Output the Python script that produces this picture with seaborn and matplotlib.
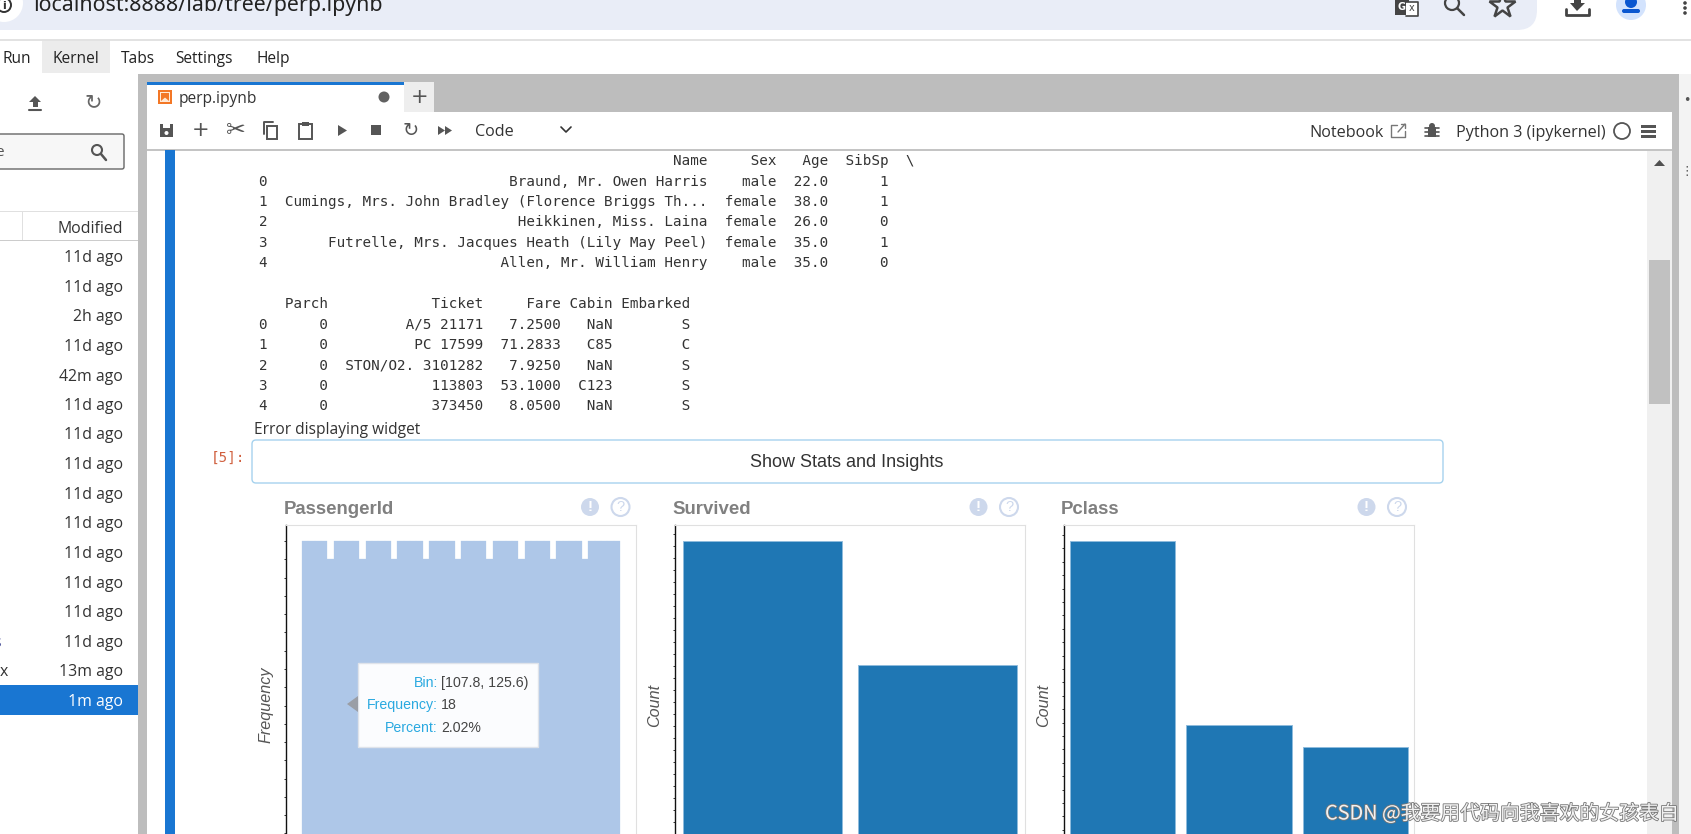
import matplotlib
matplotlib.use("Agg")
import matplotlib.pyplot as plt
import seaborn as sns
from matplotlib.patches import Rectangle, Circle, FancyBboxPatch, Polygon
from matplotlib.ticker import MultipleLocator
import matplotlib.patheffects as pe

# Datos de las tres gráficas
passenger_counts = [18, 18, 18, 18, 17, 18, 18, 18, 18, 17,
                    18, 18, 18, 18, 17, 18, 18, 18, 18, 17,
                    18, 18, 18, 18, 17, 18, 18, 18, 18, 17,
                    18, 18, 18, 18, 17, 18, 18, 18, 18, 17,
                    18, 18, 18, 18, 17, 18, 18, 18, 18, 18]
survived_labels = ["0", "1"]
survived_counts = [549, 342]
pclass_labels = ["3", "1", "2"]
pclass_counts = [491, 216, 184]

# Textos de la interfaz
menu_items = ["Run", "Kernel", "Tabs", "Settings", "Help"]
modified_times = ["11d ago", "11d ago", "2h ago", "11d ago", "42m ago", "11d ago", "11d ago", "11d ago",
                  "11d ago", "11d ago", "11d ago", "11d ago", "11d ago", "11d ago", "13m ago", "1m ago"]

# Salida del notebook
names = ["Braund, Mr. Owen Harris", "Cumings, Mrs. John Bradley (Florence Briggs Th...",
         "Heikkinen, Miss. Laina", "Futrelle, Mrs. Jacques Heath (Lily May Peel)", "Allen, Mr. William Henry"]
sexes = ["male", "female", "female", "female", "male"]
ages = ["22.0", "38.0", "26.0", "35.0", "35.0"]
sibsp = ["1", "1", "0", "1", "0"]
parch = ["0", "0", "0", "0", "0"]
tickets = ["A/5 21171", "PC 17599", "STON/O2. 3101282", "113803", "373450"]
fares = ["7.2500", "71.2833", "7.9250", "53.1000", "8.0500"]
cabins = ["NaN", "C85", "NaN", "C123", "NaN"]
embarked = ["S", "C", "S", "S", "S"]

W, H = 1691, 834
BLUE = "#1976d2"
BAR = "#1f77b4"
LIGHT = "#aec7e8"
UI_FONT = ["Open Sans", "DejaVu Sans"]
ARIAL = ["Liberation Sans", "DejaVu Sans"]
MONO = ["DejaVu Sans Mono"]

sns.set_theme(style="white")
fig = plt.figure(figsize=(W / 100, H / 100), dpi=100, facecolor="white")


def pixel_axes(zorder):
    # Ejes a pantalla completa con coordenadas en píxeles
    a = fig.add_axes([0, 0, 1, 1], zorder=zorder)
    a.set_xlim(0, W)
    a.set_ylim(H, 0)
    a.axis("off")
    return a


bg = pixel_axes(0)
top = pixel_axes(5)


def box(x0, y0, x1, y1, color, **kw):
    bg.add_patch(Rectangle((x0, y0), x1 - x0, y1 - y0, fc=color, ec="none", **kw))


def label(a, x, y, s, size, color="#333333", family=UI_FONT, ha="left", dy=2, **kw):
    # dy corrige el centrado vertical del texto respecto a la captura
    a.text(x, y + dy, s, fontsize=size, color=color, family=family, ha=ha, va="center", **kw)


def glyph(x, y, s, size, color, family=("DejaVu Sans",), **kw):
    label(bg, x, y, s, size, color=color, family=list(family), ha="center", dy=0, **kw)


# Barra del navegador
bg.add_patch(FancyBboxPatch((-30, -40), 1567, 70, boxstyle="round,pad=0,rounding_size=20", fc="#e9edf7", ec="none"))
bg.add_patch(Circle((4, 3), 19, fc="white", ec="none"))
bg.add_patch(Circle((4, 5), 7, fc="none", ec="#333333", lw=1.4))
glyph(4, 6, "i", 8, "#333333", fontweight="bold")
label(bg, 33, 5, "localhost:8888/lab/tree/perp.ipynb", 15.4, color="#222222", family=["Noto Sans", "DejaVu Sans"], dy=0)
box(1395, 0, 1409, 15, "#444444")
box(1406, 2, 1418, 16, "white", zorder=1.2)
bg.plot([1406, 1418, 1418, 1406], [2, 2, 16, 16], color="#444444", lw=1.2)
glyph(1401, 7, "G", 7, "white", fontweight="bold")
glyph(1412, 8, "x", 7, "#444444")
bg.add_patch(Circle((1452, 3), 7, fc="none", ec="#444444", lw=1.6))
bg.plot([1457, 1464], [8, 15], color="#444444", lw=1.8)
bg.plot([1502], [5], marker="*", ms=19, mfc="none", mec="#444444", mew=1.8)
bg.plot([1566, 1566, 1589, 1589], [9, 15, 15, 9], color="#444444", lw=2)
bg.add_patch(Polygon([[1570, 3], [1585, 3], [1577, 11]], fc="#444444", ec="none"))
box(1574, 0, 1581, 4, "#444444")
bg.add_patch(Circle((1631, 5), 15, fc="#d3e3fd", ec="none"))
bg.add_patch(Circle((1631, 2), 6, fc="#0b57d0", ec="none"))
bg.add_patch(FancyBboxPatch((1622, 9), 18, 4, boxstyle="round,pad=0,rounding_size=2", fc="#0b57d0", ec="none"))
for yy in [3, 8, 13]:
    bg.add_patch(Circle((1685, yy), 1.8, fc="#444444", ec="none"))

# Menú de JupyterLab
box(0, 39, W, 41, "#e2e2e2")
box(42, 41, 110, 73, "#ececec")
for x, s in zip([2, 53, 121, 175, 257], menu_items):
    label(bg, x, 57, s, 11.2, color="#222222")

# Fondo gris y paneles
box(0, 74, W, H, "#bdbdbd")
box(0, 74, 138, H, "white")
box(147, 150, 1672, H, "white")
box(147, 112, 1672, 150, "white")
box(147, 149, 1672, 151, "#c4c4c4")
box(1679, 74, W, H, "#f3f3f3")
glyph(1687, 100, "•", 9, "#555555")
glyph(1687, 171, "⋮", 9, "#555555")

# Pestaña
box(147, 84, 404, 112, "white")
box(147, 82, 404, 84.5, BLUE)
box(404, 82, 434, 112, "#eeeeee")
box(158, 90, 172, 104, "#f37726")
box(160, 92, 170, 102, "#ffe9d6")
bg.add_patch(Polygon([[161, 93], [169, 93], [169, 101], [165, 97.5], [161, 101]], fc="#f37726", ec="none"))
label(bg, 179, 97, "perp.ipynb", 11.2)
bg.add_patch(Circle((384, 97), 5.5, fc="#616161", ec="none"))
glyph(420, 97, "+", 15, "#555555")

# Barra lateral de archivos
bg.plot([29, 41], [110, 110], color="#555555", lw=1.5)
bg.add_patch(Polygon([[29, 102], [41, 102], [35, 96]], fc="#555555", ec="none"))
box(32.5, 101, 37.5, 107, "#555555")
glyph(93, 102, "↻", 15, "#666666")
bg.add_patch(FancyBboxPatch((-10, 134), 134, 35, boxstyle="round,pad=0,rounding_size=2", fc="#f7f7f7", ec="#666666", lw=1))
label(bg, -5, 152, "e", 11, color="#555555", dy=0)
bg.add_patch(Circle((97, 150), 5, fc="none", ec="#555555", lw=1.5))
bg.plot([101, 106], [154, 160], color="#555555", lw=1.8)
box(0, 211, 138, 212, "#e0e0e0")
box(0, 240, 138, 241, "#cccccc")
box(21.5, 212, 22.5, 240, "#e0e0e0")
label(bg, 123, 227, "Modified", 11.4, ha="right")
box(0, 685, 138, 715, BLUE)
row_ys = [256, 286, 315, 345, 375, 404, 433, 463, 493, 522, 552, 582, 611, 641, 670, 700]
for y, s in zip(row_ys, modified_times):
    label(bg, 123, y, s, 11.4, color="white" if s == "1m ago" else "#333333", ha="right")
label(bg, 1, 641, "s", 11.4, color="#1a237e", ha="right")
label(bg, 0, 670, "x", 11.4)

# Iconos de la barra del notebook
IC = "#555555"
box(160, 124, 173, 137, IC)
box(163, 124, 170, 128, "white")
bg.add_patch(Circle((166.5, 133), 2, fc="white", ec="none"))
glyph(201, 130, "+", 15, IC)
glyph(236, 130, "✂", 17, IC)
bg.add_patch(Rectangle((267, 126), 10, 13, fc="white", ec=IC, lw=1.4))
bg.plot([264, 264, 273], [134, 122, 122], color=IC, lw=1.4)
bg.add_patch(Rectangle((299, 124), 13, 15, fc="white", ec=IC, lw=1.4))
box(302, 122, 309, 126, IC)
bg.add_patch(Polygon([[338, 125], [338, 136], [347, 130.5]], fc=IC, ec="none"))
box(371, 125, 381, 135, IC)
glyph(411, 130, "↻", 14, IC)
bg.add_patch(Polygon([[438, 126], [438, 135], [445, 130.5]], fc=IC, ec="none"))
bg.add_patch(Polygon([[445, 126], [445, 135], [452, 130.5]], fc=IC, ec="none"))
label(bg, 475, 130, "Code", 11.6)
bg.plot([561, 566, 571], [127, 132, 127], color="#333333", lw=1.2)
label(bg, 1309, 131, "Notebook", 11.6)
bg.plot([1397, 1391, 1391, 1405, 1405], [125, 125, 137, 137, 131], color="#777777", lw=1)
bg.plot([1398, 1405], [132, 124], color="#777777", lw=1)
bg.plot([1401, 1405, 1405], [124, 124, 128], color="#777777", lw=1)
# Insecto del depurador
bg.add_patch(Rectangle((1428, 127), 8, 10, fc=IC, ec="none"))
bg.add_patch(Circle((1432, 126), 3, fc=IC, ec="none"))
for yy in [128, 132, 136]:
    bg.plot([1425, 1439], [yy, yy], color=IC, lw=1.2)
label(bg, 1456, 131, "Python 3 (ipykernel)", 11.6)
bg.add_patch(Circle((1622, 131), 8, fc="white", ec="#555555", lw=1.3))
for yy in [126, 131, 136]:
    box(1641, yy - 1.5, 1656, yy + 1.5, "#555555")

# Barra de desplazamiento
box(1647, 151, 1672, H, "#f0f0f0")
box(1649, 260, 1670, 404, "#c1c1c1")
bg.add_patch(Polygon([[1654, 166], [1665, 166], [1659.5, 160]], fc="#505050", ec="none"))

# Borde azul de la celda
box(165, 150, 175, H, BLUE)

# Salida de texto de pandas
header1 = " " * 48 + "Name" + "     Sex" + "   Age" + "  SibSp" + "  \\"
block1 = [f"{i}  {names[i]:>49}  {sexes[i]:>6}  {ages[i]:>4}  {sibsp[i]:>5}" for i in range(5)]
header2 = "   Parch            Ticket     Fare Cabin Embarked"
block2 = [f"{i}  {parch[i]:>5}  {tickets[i]:>16}  {fares[i]:>7} {cabins[i]:>5} {embarked[i]:>8}" for i in range(5)]
out_lines = [header1] + block1 + [header2] + block2
out_ys = [160, 181, 201, 221, 242, 262, 303, 323, 344, 364, 385, 405]
for y, s in zip(out_ys, out_lines):
    label(bg, 259, y, s, 10.3, color="#333333", family=MONO, dy=1)
label(bg, 254, 428, "Error displaying widget", 11.2)
label(bg, 245, 457, "[5]:", 10.3, color="#d0603f", family=MONO, ha="right", dy=1)
bg.add_patch(FancyBboxPatch((252, 440), 1191, 43, boxstyle="round,pad=0,rounding_size=4", fc="white", ec="#a6d2ee", lw=1))
label(bg, 847, 460, "Show Stats and Insights", 13, color="#333333", family=ARIAL, ha="center")


def chart(x0, x1, bar_kw, counts, title, ylab, title_x, icon_x, tick_step, labels, xlim):
    # Un panel: cabecera, recuadro y barras
    ax = fig.add_axes([x0 / W, 0, (x1 - x0) / W, (H - 525) / H], zorder=2)
    sns.barplot(x=labels, y=counts, color=bar_kw.pop("color"), saturation=1, ax=ax, **bar_kw)
    ax.set_xlim(*xlim)
    peak = max(counts)
    ax.set_ylim(peak * 36 / 329, peak * 345 / 329)
    ax.set_xticks([])
    ax.set_yticks([])
    ax.yaxis.set_major_locator(MultipleLocator(tick_step))
    ax.tick_params(axis="y", left=True, length=1.5, width=0.7, color="#333333", labelleft=False, pad=0)
    for side in ["top", "right"]:
        ax.spines[side].set_color("#e0e0e0")
        ax.spines[side].set_linewidth(0.8)
    ax.spines["bottom"].set_visible(False)
    ax.spines["left"].set_color("#111111")
    ax.spines["left"].set_linewidth(1.0)
    ax.set_xlabel("")
    ax.set_ylabel(ylab, fontsize=11.6, color="#555555", style="italic", family=ARIAL)
    ax.yaxis.set_label_coords(-0.036, 0.417)
    label(bg, title_x, 508, title, 13.4, color="#808080", family=ARIAL, fontweight="bold", dy=1)
    bg.add_patch(Circle((icon_x, 507), 9, fc="#cdd8ec", ec="none"))
    glyph(icon_x, 507, "!", 11, "white", family=ARIAL, fontweight="bold")
    bg.add_patch(Circle((icon_x + 30.5, 507), 9, fc="white", ec="#cdd8ec", lw=1.5))
    glyph(icon_x + 30.5, 507, "?", 10.5, "#cdd8ec", family=ARIAL)
    return ax


chart(286, 636, dict(color=LIGHT, width=1, edgecolor=LIGHT, linewidth=0.2), passenger_counts, "PassengerId",
      "Frequency", 284, 590, 1, list(range(len(passenger_counts))), (-3, 52))
chart(675, 1025, dict(color=BAR, width=0.91, edgecolor="#8fbcdd", linewidth=0.7), survived_counts, "Survived",
      "Count", 672, 978.5, 20, survived_labels, (-0.5, 1.5))
chart(1064, 1414, dict(color=BAR, width=0.904, edgecolor="#8fbcdd", linewidth=0.7), pclass_counts, "Pclass",
      "Count", 1061, 1366.5, 20, pclass_labels, (-0.5, 2.5))

# Tooltip sobre el histograma
top.add_patch(Rectangle((358, 663), 180, 84, fc="#fbfcfe", ec="#dfe3ea", lw=1))
top.add_patch(Polygon([[347, 704], [358, 696], [358, 712]], fc="#9a9ea6", ec="none"))
tip_keys = ["Bin:", "Frequency:", "Percent:"]
tip_vals = ["[107.8, 125.6)", "18", "2.02%"]
for y, k, v in zip([682, 704, 727], tip_keys, tip_vals):
    label(top, 438, y, k, 10.2, color="#2aa9e0", family=ARIAL, ha="right", dy=1)
    label(top, 441, y, v, 10.2, color="#444444", family=ARIAL, dy=1)

# Marca de agua
top.text(1325, 814, "CSDN @我要用代码向我喜欢的女孩表白", fontsize=14.3, color="#f2f2f2",
         family=["Noto Sans CJK SC", "DejaVu Sans"], va="center",
         path_effects=[pe.withStroke(linewidth=1.2, foreground="#777777")])

fig.savefig("out.png", dpi=100)
